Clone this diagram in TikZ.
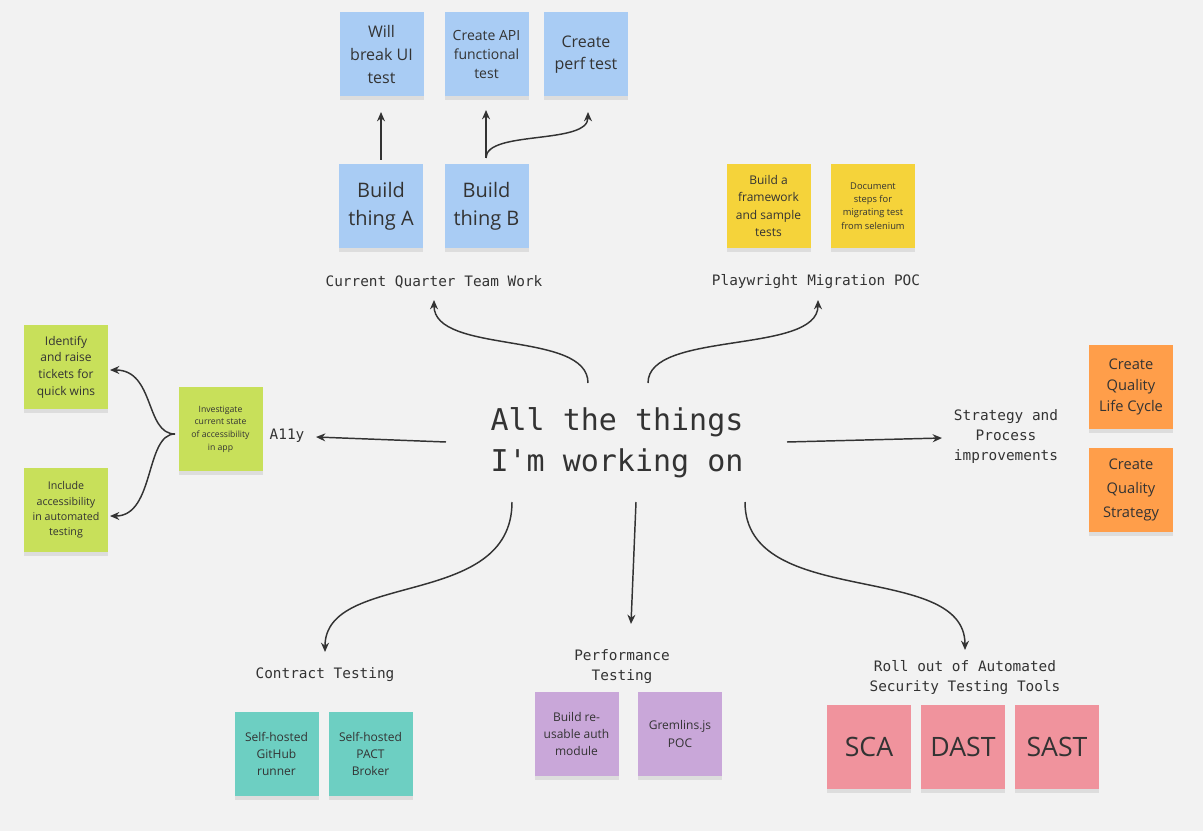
\documentclass[tikz,border=0pt]{standalone}
\usepackage{fontspec}
\setmainfont{Open Sans}
\newfontfamily\mono{DejaVu Sans Mono}
\usetikzlibrary{shadows,arrows.meta}
\definecolor{bg}{HTML}{F2F2F2}
\definecolor{nblue}{HTML}{A9CCF4}
\definecolor{nyel}{HTML}{F5D33A}
\definecolor{norg}{HTML}{FF9E4A}
\definecolor{ngrn}{HTML}{C8E05A}
\definecolor{nteal}{HTML}{6DCFC2}
\definecolor{npur}{HTML}{C9A7D9}
\definecolor{npink}{HTML}{F0939D}
\definecolor{ink}{HTML}{333333}
\tikzset{
 note/.style={minimum width=63pt,minimum height=63pt,inner sep=2pt,align=center,text=ink,
   drop shadow={opacity=0.18,shadow xshift=0pt,shadow yshift=-3pt}},
 lbl/.style={font=\mono\fontsize{10.8}{15}\selectfont,text=ink,align=center},
 arr/.style={-{Stealth[length=7pt,width=6pt]},line width=1.1pt,ink},
}
\begin{document}
\begin{tikzpicture}[x=0.75pt,y=-0.75pt]
\fill[bg] (0,0) rectangle (1203,831);
% blue
\node[note,fill=nblue,font=\fontsize{12}{17}\selectfont] (wb) at (381.5,54.5) {Will\\break UI\\test};
\node[note,fill=nblue,font=\fontsize{10.5}{14}\selectfont] (api) at (486.5,54.5) {Create API\\functional\\test};
\node[note,fill=nblue,font=\fontsize{12}{17}\selectfont] (perf) at (586,54.5) {Create\\perf test};
\node[note,fill=nblue,font=\fontsize{15}{21}\selectfont] (ba) at (381,206) {Build\\thing A};
\node[note,fill=nblue,font=\fontsize{15}{21}\selectfont] (bb) at (486.5,206) {Build\\thing B};
% yellow
\node[note,fill=nyel,font=\fontsize{9}{13}\selectfont] (y1) at (768.5,206) {Build a\\framework\\and sample\\tests};
\node[note,fill=nyel,font=\fontsize{7}{10}\selectfont] (y2) at (873,206) {Document\\steps for\\migrating test\\from selenium};
% green
\node[note,fill=ngrn,font=\fontsize{9}{12.5}\selectfont] (g1) at (66,367) {Identify\\and raise\\tickets for\\quick wins};
\node[note,fill=ngrn,font=\fontsize{8}{11.5}\selectfont] (g2) at (66,510) {Include\\accessibility\\in automated\\testing};
\node[note,fill=ngrn,font=\fontsize{6.5}{9.5}\selectfont] (g3) at (220.5,429) {Investigate\\current state\\of accessibility\\in app};
% orange
\node[note,fill=norg,font=\fontsize{11}{16}\selectfont] (o1) at (1131,387) {Create\\Quality\\Life Cycle};
\node[note,fill=norg,font=\fontsize{11}{18}\selectfont] (o2) at (1131,489.5) {Create\\Quality\\Strategy};
% teal
\node[note,fill=nteal,font=\fontsize{9}{13}\selectfont] (t1) at (276.5,754) {Self-hosted\\GitHub\\runner};
\node[note,fill=nteal,font=\fontsize{9}{13}\selectfont] (t2) at (370.5,754) {Self-hosted\\PACT\\Broker};
% purple
\node[note,fill=npur,font=\fontsize{9}{13}\selectfont] (p1) at (576.5,734) {Build re-\\usable auth\\module};
\node[note,fill=npur,font=\fontsize{9}{13}\selectfont] (p2) at (680,734) {Gremlins.js\\POC};
% pink
\node[note,fill=npink,font=\fontsize{20}{24}\selectfont] (s1) at (869,746.5) {SCA};
\node[note,fill=npink,font=\fontsize{20}{24}\selectfont] (s2) at (963,746.5) {DAST};
\node[note,fill=npink,font=\fontsize{20}{24}\selectfont] (s3) at (1057,746.5) {SAST};
% labels
\node[font=\mono\fontsize{22.5}{31}\selectfont,text=ink,align=center] (c) at (617,443) {All the things\\I'm working on};
\node[lbl] (lq) at (434,282) {Current Quarter Team Work};
\node[lbl] (lp) at (816,282) {Playwright Migration POC};
\node[lbl] (la) at (287,436) {A11y};
\node[lbl] (ls) at (1006,437) {Strategy and\\Process\\improvements};
\node[lbl] (lc) at (325,675) {Contract Testing};
\node[lbl] (lpt) at (622,667) {Performance\\Testing};
\node[lbl] (lr) at (965,678) {Roll out of Automated\\Security Testing Tools};
% coordinates
\coordinate (c1) at (588,383); \coordinate (c2) at (648,383);
\coordinate (c3) at (446,442); \coordinate (c4) at (787,442);
\coordinate (c5) at (512,502); \coordinate (c6) at (636,502); \coordinate (c7) at (745,502);
\coordinate (qe) at (434,300); \coordinate (pe) at (818,300);
\coordinate (ae) at (316,437); \coordinate (se) at (942,438);
\coordinate (ce) at (325,652); \coordinate (pte) at (631,624); \coordinate (re) at (965,650);
\coordinate (gs) at (175,434); \coordinate (g1e) at (110,370); \coordinate (g2e) at (110,516);
\coordinate (bas) at (381,160); \coordinate (bae) at (381,112);
\coordinate (bbs) at (486,158); \coordinate (bbe) at (486,110); \coordinate (pfe) at (588,112);
\draw[arr] (c1) .. controls (588,330) and (434,355) .. (qe);
\draw[arr] (c2) .. controls (648,330) and (818,355) .. (pe);
\draw[arr] (c3) -- (ae);
\draw[arr] (c4) -- (se);
\draw[arr] (c5) .. controls (512,610) and (325,570) .. (ce);
\draw[arr] (c6) -- (pte);
\draw[arr] (c7) .. controls (745,610) and (965,560) .. (re);
\draw[arr] (gs) .. controls (145,434) and (155,370) .. (g1e);
\draw[arr] (gs) .. controls (145,434) and (155,516) .. (g2e);
\draw[arr] (bas) -- (bae);
\draw[arr] (bbs) -- (bbe);
\draw[arr] (bbs) .. controls (486,130) and (588,145) .. (pfe);
\end{tikzpicture}
\end{document}
